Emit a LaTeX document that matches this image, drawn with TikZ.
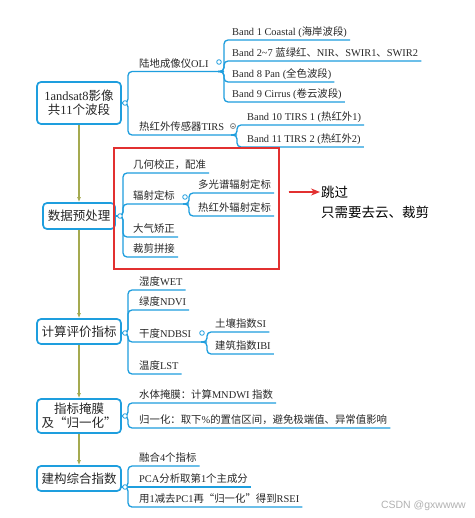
\documentclass[tikz,border=0pt]{standalone}
\usepackage{fontspec}
\usetikzlibrary{arrows.meta}
\setmainfont{Liberation Serif}
\newfontfamily\cjk{Noto Sans CJK SC}
\newfontfamily\cjkq[RawFeature=+fwid]{Noto Sans CJK SC}
\newfontfamily\wmfont{Liberation Sans}
\newcommand\zh[1]{{\cjk #1}}
\newcommand\zq[1]{{\cjkq #1}}
\definecolor{mblue}{RGB}{30,158,222}
\definecolor{olivec}{RGB}{165,170,80}
\definecolor{textc}{RGB}{40,40,40}
\definecolor{redc}{RGB}{226,48,48}
\tikzset{
  box/.style={draw=mblue, line width=1.7pt, rounded corners=4pt, fill=white,
    font=\fontsize{12.5}{14.5}\selectfont, text=textc, align=center, inner sep=1pt,
    minimum width=84pt},
  leaf/.style={anchor=south west, inner xsep=0pt, inner ysep=4pt, text depth=0pt,
    font=\fontsize{10.4}{12}\selectfont, text=textc},
  uline/.style={draw=mblue, line width=1.3pt, rounded corners=4pt},
  knob/.style={circle, draw=mblue, fill=white, line width=0.8pt, minimum size=4.6pt, inner sep=0pt},
  gknob/.style={circle, draw=gray, fill=white, line width=0.8pt, minimum size=5pt, inner sep=0pt},
  flow/.style={draw=olivec, line width=1.1pt, -{Latex[length=5pt,width=4pt]}},
  skiptext/.style={anchor=west, inner xsep=1pt, font=\fontsize{13.5}{16}\selectfont\cjk, text=black},
  redarrow/.style={draw=redc, fill=redc, line width=1.4pt, -{Stealth[length=9pt,width=7pt]}},
}
\begin{document}
\begin{tikzpicture}[x=1pt,y=-1pt]
\fill[white] (0,0) rectangle (474,518);
\useasboundingbox (0,0) rectangle (474,518);

% ---------- main boxes ----------
\node[box, minimum height=42pt] (b1) at (79,103) {1andsat8\zh{影像}\\\zh{共}11\zh{个波段}};
\node[box, minimum width=72pt, minimum height=26pt] (b2) at (79,216) {\zh{数据预处理}};
\node[box, minimum height=25pt] (b3) at (79,331.5) {\zh{计算评价指标}};
\node[box, minimum height=34pt] (b4) at (79,416) {\zh{指标掩膜}\\\zh{及}\zq{“}\zh{归一化}\zq{”}};
\node[box, minimum height=25pt] (b5) at (79,478.5) {\zh{建构综合指数}};

\draw[flow] (b1.south) -- (b2.north);
\draw[flow] (b2.south) -- (b3.north);
\draw[flow] (b3.south) -- (b4.north);
\draw[flow] (b4.south) -- (b5.north);

% ---------- section 1 ----------
\coordinate (p1) at (121,103);
\coordinate (k1) at (128,103);
\node[leaf] (oli) at (139,71.5) {\zh{陆地成像仪}OLI};
\node[leaf] (tirs) at (139,135) {\zh{热红外传感器}TIRS};
\coordinate (k11) at (224,71.5);
\coordinate (k12) at (237,135);
\draw[uline] (p1) -- (k1) |- (k11);
\draw[uline] (p1) -- (k1) |- (k12);

\node[leaf] (band1) at (232,40) {Band 1 Coastal (\zh{海岸波段})};
\node[leaf] (band2) at (232,61) {Band 2\textasciitilde 7 \zh{蓝绿红、}NIR\zh{、}SWIR1\zh{、}SWIR2};
\node[leaf] (band8) at (232,82) {Band 8 Pan (\zh{全色波段})};
\node[leaf] (band9) at (232,102) {Band 9 Cirrus (\zh{卷云波段})};
\foreach \c in {band1,band2,band8,band9}
  \draw[uline] ([xshift=-6pt]k11) -- (k11) |- ([xshift=3pt]\c.south east);

\node[leaf] (band10) at (247,125) {Band 10 TIRS 1 (\zh{热红外}1)};
\node[leaf] (band11) at (247,147) {Band 11 TIRS 2 (\zh{热红外}2)};
\foreach \c in {band10,band11}
  \draw[uline] ([xshift=-6pt]k12) -- (k12) |- ([xshift=3pt]\c.south east);

\node[knob] (kn1) at (125,103) {};
\node[knob] (kn11) at (219,62) {};
\node[gknob] (kn12) at (233,126) {};
\draw[gray, line width=0.6pt] ([xshift=-1.3pt]kn12.center) -- ([xshift=1.3pt]kn12.center);

% ---------- section 2 ----------
\node[draw=redc, line width=1.7pt, minimum width=165pt, minimum height=121pt, anchor=north west, inner sep=0pt] (redbox) at (113,147) {};
\coordinate (p2) at (115,216);
\coordinate (k2) at (123,216);
\node[leaf] (jihe) at (133,173) {\zh{几何校正，配准}};
\node[leaf] (fushe) at (133,204) {\zh{辐射定标}};
\node[leaf] (daqi) at (133,237) {\zh{大气矫正}};
\node[leaf] (caijian) at (133,257) {\zh{裁剪拼接}};
\foreach \c in {jihe,daqi,caijian}
  \draw[uline] (p2) -- (k2) |- ([xshift=3pt]\c.south east);
\coordinate (k21) at (189,204);
\draw[uline] (p2) -- (k2) |- (k21);
\node[leaf] (duoguang) at (198,193) {\zh{多光谱辐射定标}};
\node[leaf] (hongwai) at (198,216) {\zh{热红外辐射定标}};
\foreach \c in {duoguang,hongwai}
  \draw[uline] ([xshift=-6pt]k21) -- (k21) |- ([xshift=3pt]\c.south east);
\node[knob] (kn2) at (120,216) {};
\node[knob] (kn21) at (185,197) {};

\node[skiptext] (skip1) at (320,192) {跳过};
\node[skiptext] (skip2) at (320,212) {只需要去云、裁剪};
\draw[redarrow] ([xshift=9pt]redbox.east |- skip1.west) -- (skip1.west);

% ---------- section 3 ----------
\coordinate (p3) at (121,333);
\coordinate (k3) at (128,333);
\node[leaf] (wet) at (139,290) {\zh{湿度}WET};
\node[leaf] (ndvi) at (139,310) {\zh{绿度}NDVI};
\node[leaf] (ndbsi) at (139,342) {\zh{干度}NDBSI};
\node[leaf] (lst) at (139,374) {\zh{温度}LST};
\foreach \c in {wet,ndvi,lst}
  \draw[uline] (p3) -- (k3) |- ([xshift=3pt]\c.south east);
\coordinate (k31) at (207,342);
\draw[uline] (p3) -- (k3) |- (k31);
\node[leaf] (si) at (215,332) {\zh{土壤指数}SI};
\node[leaf] (ibi) at (215,354) {\zh{建筑指数}IBI};
\foreach \c in {si,ibi}
  \draw[uline] ([xshift=-6pt]k31) -- (k31) |- ([xshift=3pt]\c.south east);
\node[knob] (kn3) at (125,333) {};
\node[knob] (kn31) at (202,333) {};

% ---------- section 4 ----------
\coordinate (p4) at (121,416);
\coordinate (k4) at (128,416);
\node[leaf] (mndwi) at (139,403) {\zh{水体掩膜：计算}MNDWI \zh{指数}};
\node[leaf] (norm) at (139,428) {\zh{归一化：取下}\%\zh{的置信区间，避免极端值、异常值影响}};
\foreach \c in {mndwi,norm}
  \draw[uline] (p4) -- (k4) |- ([xshift=3pt]\c.south east);
\node[knob] (kn4) at (125,416) {};

% ---------- section 5 ----------
\coordinate (p5) at (121,487);
\coordinate (k5) at (128,487);
\node[leaf] (ronghe) at (139,466) {\zh{融合}4\zh{个指标}};
\node[leaf] (pca) at (139,487) {PCA\zh{分析取第}1\zh{个主成分}};
\node[leaf] (rsei) at (139,507) {\zh{用}1\zh{减去}PC1\zh{再}\zq{“}\zh{归一化}\zq{”}\zh{得到}RSEI};
\foreach \c in {ronghe,rsei}
  \draw[uline] (p5) -- (k5) |- ([xshift=3pt]\c.south east);
\draw[uline] (p5) -- ([xshift=3pt]pca.south east);
\node[knob] (kn5) at (125,487) {};

\node[anchor=east, inner sep=0pt, font=\fontsize{10.5}{12}\selectfont\wmfont, text=gray!60] (wm) at (466,506) {CSDN @gxwwww};
\end{tikzpicture}
\end{document}
